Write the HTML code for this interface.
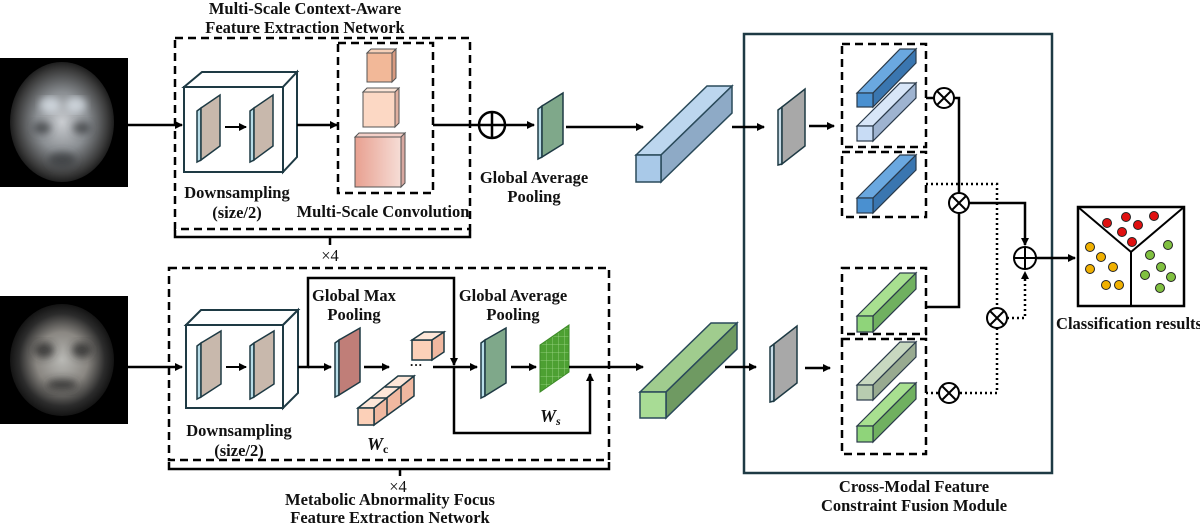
<!DOCTYPE html>
<html><head><meta charset="utf-8"><style>
html,body{margin:0;padding:0;background:#fff;}
svg{display:block;}
text{font-family:"Liberation Serif",serif;font-weight:bold;font-size:16.5px;fill:#111;}
</style></head><body>
<svg width="1200" height="526" viewBox="0 0 1200 526" xmlns="http://www.w3.org/2000/svg">
<defs>
<marker id="ar" markerWidth="8" markerHeight="8" refX="7" refY="4" orient="auto" markerUnits="userSpaceOnUse"><path d="M0,0 L8,4 L0,8 z" fill="#000"/></marker>
<radialGradient id="b1" cx="50%" cy="50%" r="55%"><stop offset="0" stop-color="#c9ccd0"/><stop offset="0.45" stop-color="#8a8e92"/><stop offset="0.8" stop-color="#3a3a3a"/><stop offset="1" stop-color="#050505"/></radialGradient>
<radialGradient id="b2" cx="50%" cy="50%" r="55%"><stop offset="0" stop-color="#b8b8b4"/><stop offset="0.45" stop-color="#8a8782"/><stop offset="0.75" stop-color="#2c2c2c"/><stop offset="1" stop-color="#050505"/></radialGradient>
<filter id="bl"><feGaussianBlur stdDeviation="4"/></filter>
<linearGradient id="pk" x1="0" x2="1"><stop offset="0" stop-color="#e8a090"/><stop offset="1" stop-color="#f6ddd6"/></linearGradient>
<pattern id="grid" width="6" height="8" patternUnits="userSpaceOnUse"><rect width="6" height="8" fill="#4da032"/><path d="M0,0H6M0,0V8" stroke="#9ed88a" stroke-width="0.8"/></pattern>
</defs>

<!-- brains -->
<rect x="0" y="58" width="128" height="129" fill="#000"/>
<ellipse cx="62" cy="122" rx="52" ry="60" fill="url(#b1)"/>
<g filter="url(#bl)" fill="#3a3c40" opacity="0.8"><ellipse cx="42" cy="128" rx="9" ry="6"/><ellipse cx="82" cy="128" rx="9" ry="6"/><ellipse cx="62" cy="160" rx="14" ry="8"/></g>
<g filter="url(#bl)" fill="#e0e8f0" opacity="0.7"><ellipse cx="50" cy="105" rx="10" ry="8"/><ellipse cx="76" cy="105" rx="10" ry="8"/></g>
<rect x="0" y="296" width="128" height="128" fill="#000"/>
<ellipse cx="62" cy="360" rx="52" ry="56" fill="url(#b2)"/>
<g filter="url(#bl)" fill="#2a2a2a" opacity="0.8"><ellipse cx="44" cy="350" rx="10" ry="8"/><ellipse cx="82" cy="350" rx="10" ry="8"/><ellipse cx="62" cy="385" rx="16" ry="6"/></g>

<!-- top title -->
<text x="305" y="14" text-anchor="middle">Multi-Scale Context-Aware</text>
<text x="305" y="33" text-anchor="middle">Feature Extraction Network</text>

<!-- top dashed -->
<rect x="175" y="38" width="295" height="191" fill="none" stroke="#000" stroke-width="2.5" stroke-dasharray="8,5"/>
<rect x="338" y="43" width="95" height="150" fill="none" stroke="#000" stroke-width="2.5" stroke-dasharray="8,5"/>
<line x1="128" y1="125" x2="182" y2="125" stroke="#000" stroke-width="2.5" marker-end="url(#ar)"/>
<g stroke="#1e3a44" stroke-width="2" fill="#fff">
<polygon points="184,87 202,72 297,72 283,87"/>
<polygon points="283,87 297,72 297,157 283,172"/>
<rect x="184" y="87" width="99" height="85"/>
</g>
<g stroke="#1e3a44" stroke-width="1.5">
<polygon points="197,111 201,108 201,160 197,162" fill="#b8dde8"/>
<polygon points="201,108 220,95 220,146 201,160" fill="#c8b8ac"/>
<polygon points="250,111 254,108 254,160 250,162" fill="#b8dde8"/>
<polygon points="254,108 273,95 273,146 254,160" fill="#c8b8ac"/>
</g>
<line x1="225" y1="127" x2="246" y2="127" stroke="#000" stroke-width="2" marker-end="url(#ar)"/>
<line x1="297" y1="125" x2="337" y2="125" stroke="#000" stroke-width="2.5" marker-end="url(#ar)"/>
<g stroke="#555" stroke-width="1">
<rect x="367" y="53" width="25" height="29" fill="#f2b898"/><polygon points="367,53 371,49 396,49 392,53" fill="#f6d0b8"/><polygon points="392,53 396,49 396,78 392,82" fill="#d89a80"/>
<rect x="363" y="92" width="32" height="35" fill="#fcd8c4"/><polygon points="363,92 367,88 399,88 395,92" fill="#fde6d8"/><polygon points="395,92 399,88 399,123 395,127" fill="#e0b0a0"/>
<rect x="355" y="137" width="46" height="50" fill="url(#pk)"/><polygon points="355,137 359,133 405,133 401,137" fill="#f4d0c8"/><polygon points="401,137 405,133 405,183 401,187" fill="#d8a8a0"/>
</g>
<text x="237" y="198" text-anchor="middle">Downsampling</text>
<text x="237" y="218" text-anchor="middle">(size/2)</text>
<text x="383" y="217" text-anchor="middle">Multi-Scale Convolution</text>
<path d="M175,230 V237 H470 V230 M330,237 V245" fill="none" stroke="#000" stroke-width="2.5"/>
<text x="330" y="261" text-anchor="middle" style="font-weight:normal">×4</text>

<line x1="433" y1="125" x2="479" y2="125" stroke="#000" stroke-width="2.5"/>
<circle cx="492" cy="125" r="13" fill="none" stroke="#000" stroke-width="2.5"/>
<path d="M479,125H505M492,112V138" stroke="#000" stroke-width="2.5"/>
<line x1="505" y1="125" x2="534" y2="125" stroke="#000" stroke-width="2.5" marker-end="url(#ar)"/>
<g stroke="#1e3a44" stroke-width="1.5">
<polygon points="538,109 542,106 542,157 538,159" fill="#b8dde8"/>
<polygon points="542,106 563,93 563,144 542,157" fill="#7fa88a"/>
</g>
<line x1="566" y1="127" x2="643" y2="127" stroke="#000" stroke-width="2.5" marker-end="url(#ar)"/>
<text x="534" y="183" text-anchor="middle">Global Average</text>
<text x="534" y="202" text-anchor="middle">Pooling</text>

<!-- bottom branch -->
<rect x="169" y="268" width="440" height="192" fill="none" stroke="#000" stroke-width="2.5" stroke-dasharray="8,5"/>
<line x1="128" y1="367" x2="182" y2="367" stroke="#000" stroke-width="2.5" marker-end="url(#ar)"/>
<g stroke="#1e3a44" stroke-width="2" fill="#fff">
<polygon points="186,325 201,310 298,310 283,325"/>
<polygon points="283,325 298,310 298,393 283,408"/>
<rect x="186" y="325" width="97" height="83"/>
</g>
<g stroke="#1e3a44" stroke-width="1.5">
<polygon points="197,346 201,343 201,397 197,399" fill="#b8dde8"/>
<polygon points="201,343 221,331 221,384 201,397" fill="#c8b8ac"/>
<polygon points="250,346 254,343 254,397 250,399" fill="#b8dde8"/>
<polygon points="254,343 274,331 274,384 254,397" fill="#c8b8ac"/>
<polygon points="335,343 339,340 339,395 335,397" fill="#b8dde8"/>
<polygon points="339,340 360,328 360,382 339,395" fill="#c07e78"/>
<polygon points="481,343 485,340 485,396 481,398" fill="#b8dde8"/>
<polygon points="485,340 506,328 506,383 485,396" fill="#7fa88a"/>
</g>
<line x1="226" y1="367" x2="246" y2="367" stroke="#000" stroke-width="2" marker-end="url(#ar)"/>
<path d="M298,367 H308 V278 H454 V365" fill="none" stroke="#000" stroke-width="2.5" marker-end="url(#ar)"/>
<line x1="308" y1="367" x2="331" y2="367" stroke="#000" stroke-width="2.5" marker-end="url(#ar)"/>
<line x1="364" y1="367" x2="389" y2="367" stroke="#000" stroke-width="2.5" marker-end="url(#ar)"/>
<g stroke="#1e3a44" stroke-width="1.5">
<rect x="412" y="340" width="20" height="20" fill="#fcd0b8"/><polygon points="412,340 424,332 444,332 432,340" fill="#fde6d8"/><polygon points="432,340 444,332 444,352 432,360" fill="#f0b8a0"/>
<polygon points="374,408 414,376 414,396 374,425" fill="#f0b8a0"/>
<polygon points="358,408 398,376 414,376 374,408" fill="#fde6d8"/>
<line x1="371" y1="398" x2="387" y2="398"/>
<line x1="385" y1="387" x2="401" y2="387"/>
<rect x="358" y="408" width="16" height="17" fill="#fcd0b8"/>
<line x1="387" y1="398" x2="387" y2="415"/>
<line x1="401" y1="387" x2="401" y2="404"/>
</g>
<text x="416" y="369" text-anchor="middle" style="font-size:13px">···</text>
<line x1="433" y1="367" x2="477" y2="367" stroke="#000" stroke-width="2.5" marker-end="url(#ar)"/>
<path d="M454,367 V433 H590 V374" fill="none" stroke="#000" stroke-width="2.5" marker-end="url(#ar)"/>
<line x1="511" y1="367" x2="536" y2="367" stroke="#000" stroke-width="2.5" marker-end="url(#ar)"/>
<polygon points="540,345 569,325 569,372 540,392" fill="url(#grid)" stroke="#3d8a28"/>
<line x1="569" y1="367" x2="643" y2="367" stroke="#000" stroke-width="2.5" marker-end="url(#ar)"/>
<text x="354" y="301" text-anchor="middle">Global Max</text>
<text x="354" y="320" text-anchor="middle">Pooling</text>
<text x="513" y="301" text-anchor="middle">Global Average</text>
<text x="513" y="320" text-anchor="middle">Pooling</text>
<text x="239" y="436" text-anchor="middle">Downsampling</text>
<text x="239" y="456" text-anchor="middle">(size/2)</text>
<text x="367" y="450" style="font-style:italic;font-size:18px">W<tspan style="font-size:12px;font-style:normal" dy="3">c</tspan></text>
<text x="540" y="422" style="font-style:italic;font-size:18px">W<tspan style="font-size:12px" dy="3">s</tspan></text>
<path d="M169,462 V469 H609 V462 M400,469 V476" fill="none" stroke="#000" stroke-width="2.5"/>
<text x="398" y="492" text-anchor="middle" style="font-weight:normal">×4</text>
<text x="390" y="505" text-anchor="middle">Metabolic Abnormality Focus</text>
<text x="390" y="523" text-anchor="middle">Feature Extraction Network</text>

<!-- big bars -->
<g stroke="#2a4a5a" stroke-width="1.5">
<polygon points="636,155 707,86 732,86 661,155" fill="#bcd6ee"/>
<polygon points="661,155 732,86 732,113 661,182" fill="#8eaac6"/>
<rect x="636" y="155" width="25" height="27" fill="#a9c9e8"/>
<polygon points="640,392 711,323 737,323 666,392" fill="#a0cc8e"/>
<polygon points="666,392 737,323 737,349 666,418" fill="#6f9a62"/>
<rect x="640" y="392" width="26" height="26" fill="#a8dc95"/>
</g>

<!-- fusion module -->
<rect x="744" y="34" width="308" height="439" fill="none" stroke="#1e3a44" stroke-width="2.5"/>
<line x1="732" y1="127" x2="764" y2="127" stroke="#000" stroke-width="2.5" marker-end="url(#ar)"/>
<line x1="725" y1="367" x2="756" y2="367" stroke="#000" stroke-width="2.5" marker-end="url(#ar)"/>
<g stroke="#1e3a44" stroke-width="1.5">
<polygon points="778,110 782,107 782,164 778,165" fill="#c8dde8"/>
<polygon points="782,107 805,89 805,146 782,164" fill="#a8a8a8"/>
<polygon points="770,347 774,344 774,401 770,402" fill="#c8dde8"/>
<polygon points="774,344 797,326 797,383 774,401" fill="#a8a8a8"/>
</g>
<line x1="809" y1="126" x2="834" y2="126" stroke="#000" stroke-width="2.5" marker-end="url(#ar)"/>
<line x1="805" y1="368" x2="830" y2="368" stroke="#000" stroke-width="2.5" marker-end="url(#ar)"/>
<g fill="none" stroke="#000" stroke-width="2.5" stroke-dasharray="8,5">
<rect x="842" y="44" width="84" height="103"/>
<rect x="842" y="152" width="84" height="65"/>
<rect x="842" y="268" width="84" height="66"/>
<rect x="842" y="339" width="84" height="115"/>
</g>
<g stroke="#2a3a4a" stroke-width="1.2">
<polygon points="857,93 900,49 916,49 873,93" fill="#6aa8e0"/><polygon points="873,93 916,49 916,63 873,107" fill="#3a76b0"/><rect x="857" y="93" width="16" height="14" fill="#4a90d0"/>
<polygon points="857,126 900,83 916,83 873,126" fill="#d8e6f8"/><polygon points="873,126 916,83 916,98 873,141" fill="#9eb3d0"/><rect x="857" y="126" width="16" height="15" fill="#c8dcf5"/>
<polygon points="857,198 900,155 916,155 873,198" fill="#6aa8e0"/><polygon points="873,198 916,155 916,170 873,213" fill="#3a76b0"/><rect x="857" y="198" width="16" height="15" fill="#4a90d0"/>
<polygon points="857,316 900,273 916,273 873,316" fill="#a8e090"/><polygon points="873,316 916,273 916,289 873,332" fill="#70b060"/><rect x="857" y="316" width="16" height="16" fill="#8fd47a"/>
<polygon points="857,385 900,342 916,342 873,385" fill="#c8d8c0"/><polygon points="873,385 916,342 916,357 873,400" fill="#98aa90"/><rect x="857" y="385" width="16" height="15" fill="#b8ccb0"/>
<polygon points="857,426 900,383 916,383 873,426" fill="#a8e090"/><polygon points="873,426 916,383 916,399 873,442" fill="#70b060"/><rect x="857" y="426" width="16" height="16" fill="#8fd47a"/>
</g>
<g fill="none" stroke="#000" stroke-width="2.5">
<path d="M926,98 H934"/>
<path d="M954,98 H959 V193 M959,213 V307 H926"/>
<path d="M969,203 H1025 V245" marker-end="url(#ar)"/>
<path d="M1036,258 H1075" marker-end="url(#ar)"/>
</g>
<g fill="none" stroke="#000" stroke-width="2.5" stroke-dasharray="2,3">
<path d="M926,184 H997 V308 M997,328 V393 H959"/>
<path d="M1007,318 H1025 V272" marker-end="url(#ar)"/>
<path d="M926,393 H939"/>
</g>
<g fill="#fff" stroke="#000" stroke-width="2">
<circle cx="944" cy="98" r="10"/><path d="M937,91L951,105M951,91L937,105"/>
<circle cx="959" cy="203" r="10"/><path d="M952,196L966,210M966,196L952,210"/>
<circle cx="997" cy="318" r="10"/><path d="M990,311L1004,325M1004,311L990,325"/>
<circle cx="949" cy="393" r="10"/><path d="M942,386L956,400M956,386L942,400"/>
<circle cx="1025" cy="258" r="11"/><path d="M1014,258H1036M1025,247V269"/>
</g>
<rect x="1078" y="207" width="106" height="99" fill="#fff" stroke="#000" stroke-width="2.5"/>
<path d="M1078,207 L1131,252 L1184,207 M1131,252 V306" fill="none" stroke="#000" stroke-width="2"/>
<g stroke="#222" stroke-width="1">
<g fill="#e01010"><circle cx="1107" cy="223" r="4.5"/><circle cx="1126" cy="217" r="4.5"/><circle cx="1138" cy="225" r="4.5"/><circle cx="1154" cy="216" r="4.5"/><circle cx="1122" cy="232" r="4.5"/><circle cx="1132" cy="242" r="4.5"/></g>
<g fill="#f0b000"><circle cx="1090" cy="247" r="4.5"/><circle cx="1101" cy="257" r="4.5"/><circle cx="1113" cy="267" r="4.5"/><circle cx="1090" cy="269" r="4.5"/><circle cx="1106" cy="285" r="4.5"/><circle cx="1119" cy="285" r="4.5"/></g>
<g fill="#80c040"><circle cx="1168" cy="245" r="4.5"/><circle cx="1150" cy="255" r="4.5"/><circle cx="1161" cy="267" r="4.5"/><circle cx="1145" cy="275" r="4.5"/><circle cx="1171" cy="277" r="4.5"/><circle cx="1160" cy="288" r="4.5"/></g>
</g>
<text x="1129" y="329" text-anchor="middle">Classification results</text>
<text x="914" y="492" text-anchor="middle">Cross-Modal Feature</text>
<text x="914" y="511" text-anchor="middle">Constraint Fusion Module</text>
</svg>
</body></html>
